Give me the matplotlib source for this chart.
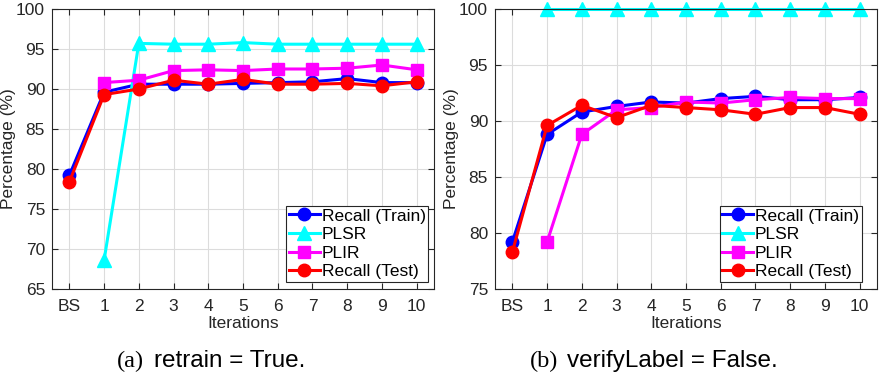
import numpy as np
import matplotlib.pyplot as plt

# x positions: baseline (BS) followed by iterations 1..10
labels = ['BS', '1', '2', '3', '4', '5', '6', '7', '8', '9', '10']

# ── (a) retrain = True ──────────────────────────────────────────
a_train = [79.2, 89.6, 90.6, 90.6, 90.6, 90.7, 90.8, 90.9, 91.3, 90.8, 90.8]
a_plsr = [None, 68.6, 95.7, 95.6, 95.6, 95.8, 95.6, 95.6, 95.6, 95.6, 95.6]
a_plir = [None, 90.8, 91.1, 92.3, 92.4, 92.3, 92.5, 92.5, 92.6, 93.0, 92.4]
a_test = [78.4, 89.3, 90.0, 91.1, 90.6, 91.2, 90.6, 90.6, 90.7, 90.4, 90.9]

# ── (b) verifyLabel = False ─────────────────────────────────────
b_train = [79.2, 88.8, 90.8, 91.3, 91.7, 91.6, 92.0, 92.2, 91.9, 91.9, 92.1]
b_plsr = [None, 100, 100, 100, 100, 100, 100, 100, 100, 100, 100]
b_plir = [None, 79.2, 88.8, 91.0, 91.2, 91.7, 91.6, 91.9, 92.1, 92.0, 92.0]
b_test = [78.3, 89.6, 91.4, 90.3, 91.4, 91.2, 91.0, 90.6, 91.2, 91.2, 90.6]

plt.rcParams['font.family'] = ['Liberation Sans', 'DejaVu Sans']

fig = plt.figure(figsize=(8.82, 3.74), dpi=100)
W, H = 882, 374
ax1 = fig.add_axes([52 / W, 1 - 289 / H, 382 / W, 280 / H])
ax2 = fig.add_axes([495 / W, 1 - 289 / H, 382 / W, 280 / H])

dark = '#262626'


def to_arr(v):
    return np.array([np.nan if x is None else x for x in v], dtype=float)


def draw(ax, train, plsr, plir, test, ylim, yticks, legend_anchor):
    x = np.arange(len(labels))
    ax.plot(x, to_arr(train), '-o', color='#0000ff', lw=2.2, ms=9, label='Recall (Train)')
    ax.plot(x, to_arr(plsr), '-^', color='#00ffff', lw=2.2, ms=9.5, label='PLSR',
            clip_on=False)
    ax.plot(x, to_arr(plir), '-s', color='#ff00ff', lw=2.2, ms=8, label='PLIR')
    ax.plot(x, to_arr(test), '-o', color='#ff0000', lw=2.2, ms=9, label='Recall (Test)')
    ax.set_xlim(-0.5, 10.5)
    ax.set_ylim(*ylim)
    ax.set_xticks(x)
    ax.set_xticklabels(labels)
    ax.set_yticks(yticks)
    ax.grid(True, color='#dcdcdc', lw=0.8)
    ax.set_axisbelow(True)
    ax.tick_params(direction='in', top=True, right=True, colors=dark,
                   labelsize=12.5, length=4, width=0.8, pad=5)
    ax.tick_params(axis='x', pad=7)
    for s in ax.spines.values():
        s.set_color(dark)
        s.set_linewidth(0.8)
    ax.set_xlabel('Iterations', fontsize=12.5, color=dark, labelpad=2)
    ax.set_ylabel('Percentage (%)', fontsize=12.5, color=dark)
    ax.yaxis.set_label_coords(-0.094, 0.5)
    leg = ax.legend(loc='lower right', bbox_to_anchor=legend_anchor,
                    fontsize=12.5, handlelength=1.8, handletextpad=0.1,
                    borderpad=0.15, labelspacing=0.2, borderaxespad=0,
                    fancybox=False, framealpha=1)
    leg.get_frame().set_edgecolor(dark)
    leg.get_frame().set_linewidth(0.8)


draw(ax1, a_train, a_plsr, a_plir, a_test, (65, 100), np.arange(65, 101, 5), (0.985, 0.025))
draw(ax2, b_train, b_plsr, b_plir, b_test, (75, 100), np.arange(75, 101, 5), (0.96, 0.025))

cy = 1 - 367 / H
fig.text(117 / W, cy, '(a)', fontsize=17.5, family='Liberation Serif',
         ha='left', va='baseline')
fig.text(154 / W, cy, 'retrain = True.', fontsize=17.5, ha='left', va='baseline')
fig.text(530 / W, cy, '(b)', fontsize=17.5, family='Liberation Serif',
         ha='left', va='baseline')
fig.text(567 / W, cy, 'verifyLabel = False.', fontsize=17.5, ha='left', va='baseline')

fig.savefig('out.png', dpi=100)
